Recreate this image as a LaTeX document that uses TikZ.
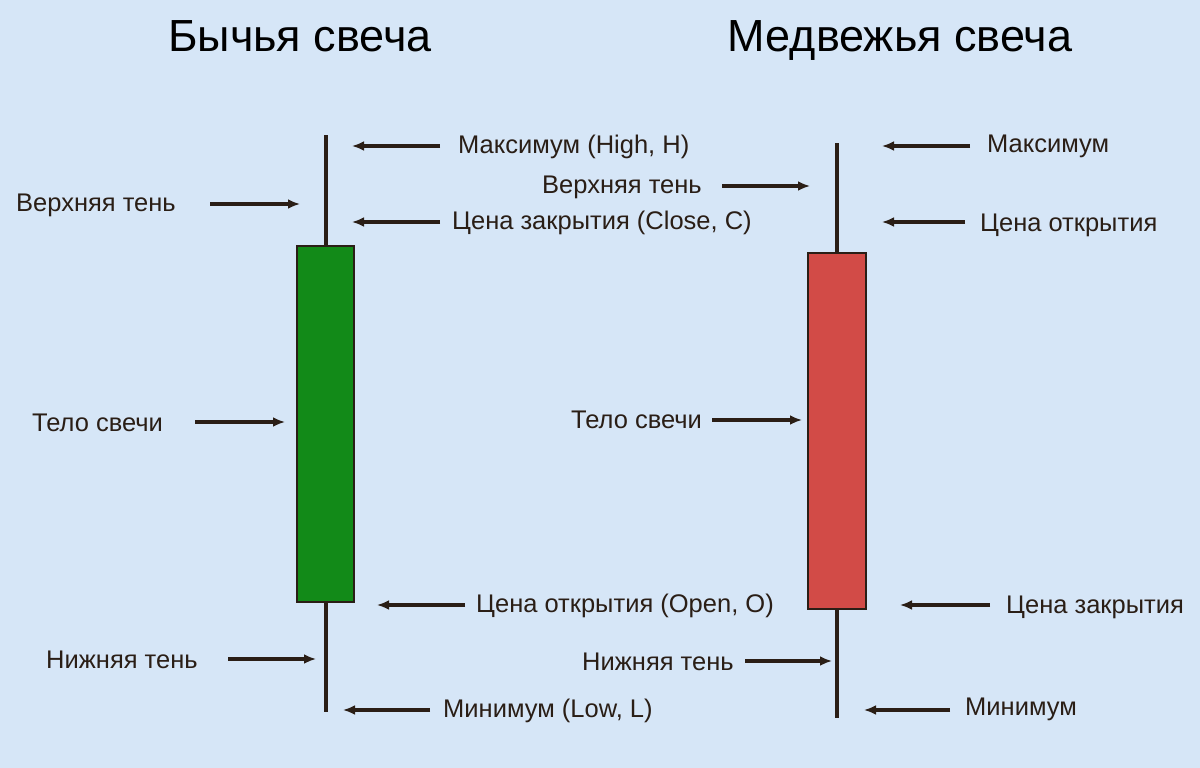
\documentclass[tikz,border=0pt]{standalone}
\usepackage{fontspec}
\setmainfont{Liberation Sans}
\usetikzlibrary{arrows.meta}
\definecolor{bg}{HTML}{D6E6F7}
\definecolor{bull}{HTML}{128A18}
\definecolor{bear}{HTML}{D24B47}
\definecolor{ink}{HTML}{2A1E16}
\begin{document}
\begin{tikzpicture}[x=1pt,y=-1pt,
  lbl/.style={font=\fontsize{25.5}{28}\selectfont,text=ink,inner sep=0pt},
  ttl/.style={font=\fontsize{45}{50}\selectfont,text=black,inner sep=0pt,anchor=base},
  arr/.style={draw=ink,line width=3.4pt,-{Latex[length=12pt,width=10pt]}},
  wick/.style={draw=ink,line width=3.2pt},
  body/.style={draw=ink,line width=2pt}]
\fill[bg] (0,0) rectangle (1200,768);
\useasboundingbox (0,0) rectangle (1200,768);
\node[ttl] (t1) at (300,52) {Бычья свеча};
\node[ttl] (t2) at (900,52) {Медвежья свеча};
% bull candle
\draw[wick] (326,135) -- (326,712);
\draw[body,fill=bull] (297,246) rectangle (354,602);
% bear candle
\draw[wick] (837,143) -- (837,718);
\draw[body,fill=bear] (808,253) rectangle (866,609);
% bull labels
\node[lbl,anchor=west] (a1) at (458,147) {Максимум (High, H)};
\coordinate (a1e) at (352,146); \draw[arr] (440,146) coordinate (a1s) -- (a1e);
\node[lbl,anchor=west] (a2) at (452,223) {Цена закрытия (Close, C)};
\coordinate (a2e) at (352,222); \draw[arr] (440,222) coordinate (a2s) -- (a2e);
\node[lbl,anchor=west] (a3) at (16,205) {Верхняя тень};
\coordinate (a3e) at (300,204); \draw[arr] (210,204) coordinate (a3s) -- (a3e);
\node[lbl,anchor=west] (a4) at (32,423) {Тело свечи};
\coordinate (a4e) at (285,422); \draw[arr] (195,422) coordinate (a4s) -- (a4e);
\node[lbl,anchor=west] (a5) at (476,606) {Цена открытия (Open, O)};
\coordinate (a5e) at (377,605); \draw[arr] (465,605) coordinate (a5s) -- (a5e);
\node[lbl,anchor=west] (a6) at (46,660) {Нижняя тень};
\coordinate (a6e) at (316,659); \draw[arr] (228,659) coordinate (a6s) -- (a6e);
\node[lbl,anchor=west] (a7) at (443,711) {Минимум (Low, L)};
\coordinate (a7e) at (343,710); \draw[arr] (430,710) coordinate (a7s) -- (a7e);
% bear labels
\node[lbl,anchor=west] (b1) at (987,146) {Максимум};
\coordinate (b1e) at (882,146); \draw[arr] (970,146) coordinate (b1s) -- (b1e);
\node[lbl,anchor=west] (b2) at (542,187) {Верхняя тень};
\coordinate (b2e) at (810,186); \draw[arr] (722,186) coordinate (b2s) -- (b2e);
\node[lbl,anchor=west] (b3) at (980,225) {Цена открытия};
\coordinate (b3e) at (882,222); \draw[arr] (965,222) coordinate (b3s) -- (b3e);
\node[lbl,anchor=west] (b4) at (571,420) {Тело свечи};
\coordinate (b4e) at (802,420); \draw[arr] (712,420) coordinate (b4s) -- (b4e);
\node[lbl,anchor=west] (b5) at (1006,607) {Цена закрытия};
\coordinate (b5e) at (900,605); \draw[arr] (990,605) coordinate (b5s) -- (b5e);
\node[lbl,anchor=west] (b6) at (582,662) {Нижняя тень};
\coordinate (b6e) at (832,661); \draw[arr] (745,661) coordinate (b6s) -- (b6e);
\node[lbl,anchor=west] (b7) at (965,709) {Минимум};
\coordinate (b7e) at (864,710); \draw[arr] (950,710) coordinate (b7s) -- (b7e);
\end{tikzpicture}
\end{document}
